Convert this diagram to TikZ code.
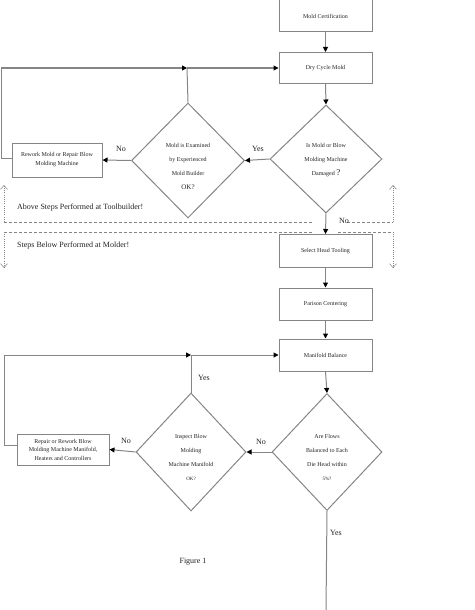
\documentclass[tikz,border=0pt]{standalone}
\usepackage{fontspec}
\setmainfont{Liberation Serif}
\usetikzlibrary{shapes.geometric,arrows.meta}
\definecolor{ln}{HTML}{858585}
\definecolor{tx}{HTML}{222222}
\begin{document}
\begin{tikzpicture}[x=1pt,y=-1pt,
  box/.style={draw=ln,line width=1pt,rectangle,minimum width=93pt,minimum height=32pt,inner sep=0pt,
    text=tx,align=center,font=\fontsize{6}{9}\selectfont},
  dia/.style={draw=ln,line width=1pt,diamond,inner sep=0pt},
  dtext/.style={text=tx,align=center,inner sep=0pt,font=\fontsize{6}{14}\selectfont},
  lab/.style={text=tx,inner sep=0pt,font=\fontsize{8}{9}\selectfont},
  conn/.style={draw=ln,line width=1pt},
  arr/.style={conn,-{Triangle[length=5pt,width=5pt,color=black]}},
  sep/.style={draw=ln,line width=0.7pt,dash pattern=on 3pt off 2pt},
  vsep/.style={draw=ln,line width=0.6pt,dash pattern=on 1pt off 1.2pt,-{Straight Barb[length=4pt,width=7pt,line width=0.5pt]}}
]
\useasboundingbox (0,0) rectangle (474,610);

% top section
\node[box] (mc) at (325.5,16) {Mold Certification};
\node[box,minimum height=31pt] (dry) at (325.5,68) {Dry Cycle Mold};
\node[dia,minimum width=112pt,minimum height=108pt] (d1) at (326,159) {};
\node[dtext] (d1t) at (326,160) {Is Mold or Blow\\Molding Machine\\Damaged {\fontsize{9}{14}\selectfont ?}};
\node[dia,minimum width=113pt,minimum height=115pt] (d2) at (188,160.5) {};
\node[dtext] (d2t) at (188,166) {Mold is Examined\\by Experienced\\Mold Builder\\{\fontsize{7}{12}\selectfont OK?}};
\node[box,minimum width=90pt,minimum height=34pt] (rw) at (57,160) {Rework Mold or Repair Blow\\Molding Machine};

\coordinate (j1) at (187,68);
\draw[arr] (mc.south) -- (dry.north);
\draw[arr] (dry.south) -- (d1.north);
\draw[arr] (d1.west) -- (d2.east);
\node[lab] (y1) at (258,149) {Yes};
\draw[arr] (d2.west) -- (rw.east);
\node[lab] (n1) at (121,149) {No};
\draw[arr] ([yshift=2pt]rw.west) -- ++(-10,0) |- (j1);
\draw[conn] (d2.north) -- (j1);
\draw[arr] (j1) -- (dry.west);

% section separators
\draw[sep] (4,222) -- (313,222);
\draw[sep] (347,222) -- (393,222);
\draw[sep] (4,232) -- (313,232);
\draw[sep] (338,232) -- (393,232);
\draw[vsep] (4,222) -- (4,185);
\draw[vsep] (393,222) -- (393,185);
\draw[vsep] (4,232) -- (4,268);
\draw[vsep] (393,232) -- (393,268);
\node[lab,anchor=west] (above) at (17,208) {Above Steps Performed at Toolbuilder!};
\node[lab,anchor=west] (below) at (17,246) {Steps Below Performed at Molder!};

% lower section
\node[box,minimum height=33pt] (sel) at (325.5,251) {Select Head Tooling};
\node[box] (par) at (325.5,304) {Parison Centering};
\node[box] (man) at (325.5,355) {Manifold Balance};
\node[dia,minimum width=110pt,minimum height=117pt] (d3) at (327,452) {};
\node[dtext] (d3t) at (327,457) {Are Flows\\Balanced to Each\\Die Head within\\{\fontsize{5}{12}\selectfont 5\%?}};
\node[dia,minimum width=110pt,minimum height=118pt] (d4) at (191,452) {};
\node[dtext] (d4t) at (191,457) {Inspect Blow\\Molding\\Machine Manifold\\{\fontsize{5}{12}\selectfont OK?}};
\node[box,minimum width=92pt,minimum height=31pt,font=\fontsize{6}{8.5}\selectfont] (rp) at (63,449.5) {Repair or Rework Blow\\Molding Machine Manifold,\\Heaters and Controllers};

\draw[arr] (d1.south) -- (sel.north);
\node[lab] (n0) at (344,221) {No};
\draw[arr] (sel.south) -- (par.north);
\draw[arr] (par.south) -- (man.north);
\draw[arr] (man.south) -- (d3.north);
\draw[arr] (d3.west) -- (d4.east);
\node[lab] (n3) at (261,442) {No};
\draw[arr] (d4.west) -- (rp.east);
\node[lab] (n4) at (126,441) {No};
\coordinate (j2) at (191,355);
\draw[arr] ([yshift=4.5pt]rp.west) -- ++(-12,0) |- (j2);
\draw[conn] (d4.north) -- (j2);
\node[lab] (y4) at (204,378) {Yes};
\draw[arr] (j2) -- (man.west);
\coordinate (bot) at (326,610);
\draw[conn] (d3.south) -- (bot);
\node[lab] (y3) at (336,533) {Yes};
\node[lab] (fig) at (193,562) {Figure 1};
\end{tikzpicture}
\end{document}
